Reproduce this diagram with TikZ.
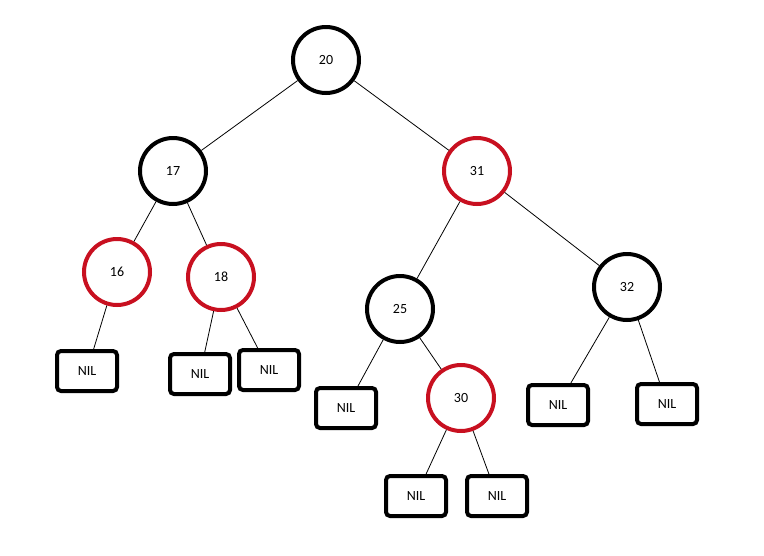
\documentclass[tikz,border=0pt]{standalone}
\usepackage{fontspec}
\setmainfont{Carlito}
\definecolor{rbred}{RGB}{200,16,32}
\begin{document}
\begin{tikzpicture}[x=1pt,y=-1pt,
  blk/.style={circle,draw=black,line width=4pt,minimum size=66pt,inner sep=0pt,font=\fontsize{14}{16}\selectfont},
  red/.style={blk,draw=rbred},
  nil/.style={draw=black,line width=4pt,rounded corners=4pt,minimum width=60pt,minimum height=40pt,inner sep=0pt,font=\fontsize{14}{16}\selectfont},
  edge/.style={draw=black,line width=0.8pt}]
\useasboundingbox (0,0) rectangle (764,555);
\node[blk] (n20) at (326,60) {20};
\node[blk] (n17) at (173,171) {17};
\node[red] (n31) at (477,171) {31};
\node[red] (n16) at (117,272) {16};
\node[red] (n18) at (221,277) {18};
\node[blk] (n25) at (400,309) {25};
\node[blk] (n32) at (627,287) {32};
\node[red] (n30) at (461,398) {30};
\node[nil] (a) at (87,371) {NIL};
\node[nil] (b) at (200,374) {NIL};
\node[nil] (c) at (269,370) {NIL};
\node[nil] (d) at (346,408) {NIL};
\node[nil] (e) at (416,496) {NIL};
\node[nil] (f) at (497,496) {NIL};
\node[nil] (g) at (558,405) {NIL};
\node[nil] (h) at (667,404) {NIL};
\draw[edge] (n20) -- (n17);
\draw[edge] (n20) -- (n31);
\draw[edge] (n17) -- (n16);
\draw[edge] (n17) -- (n18);
\draw[edge] (n31) -- (n25);
\draw[edge] (n31) -- (n32);
\draw[edge] (n16) -- (a);
\draw[edge] (n18) -- (b);
\draw[edge] (n18) -- (c);
\draw[edge] (n25) -- (d);
\draw[edge] (n25) -- (n30);
\draw[edge] (n30) -- (e);
\draw[edge] (n30) -- (f);
\draw[edge] (n32) -- (g);
\draw[edge] (n32) -- (h);
\end{tikzpicture}
\end{document}
